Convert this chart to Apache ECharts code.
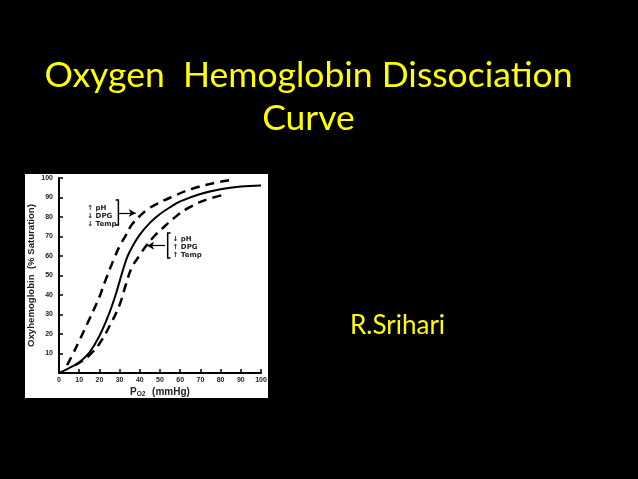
<!DOCTYPE html>
<html>
<head>
<meta charset="utf-8">
<style>
html,body{margin:0;padding:0;background:#000;}
#c{width:638px;height:479px;}
</style>
<script src="https://cdn.jsdelivr.net/npm/echarts@6/dist/echarts.min.js"></script>
</head>
<body>
<div id="c"></div>
<script>
var xTicks = [0,10,20,30,40,50,60,70,80,90,100];
var yTicks = [10,20,30,40,50,60,70,80,90,100];
var normalCurve = [[0,0],[5,2.5],[10,5.5],[15,10.5],[20,19],[25,31],[28,40],[30,47],[32,54],[34,60],[37,66],[40,71],[45,77],[50,81.5],[55,85],[60,88],[70,91.8],[80,94.2],[90,95.6],[100,96.2]];
var leftShift = [[4,4],[7,10],[10,16.5],[15,27.5],[20,39],[23,47.5],[27,58],[30,65],[33,70.5],[36,76],[40,80.5],[44,84],[48,86.5],[58,91.3],[66,94.5],[75,97],[85,99]];
var rightShift = [[8,4],[12,6.5],[15,9],[20,15],[25,24],[30,35],[33,45],[36,54],[40,60.5],[43,65],[47,70],[51,74],[57,79.5],[63,84],[72,88.5],[82,91.5]];
var leftLabels = ['\u2191 pH','\u2193 DPG','\u2193 Temp'];
var rightLabels = ['\u2193 pH','\u2191 DPG','\u2191 Temp'];
var titleText = 'Oxygen  Hemoglobin Dissociation\nCurve';
var authorText = 'R.Srihari';

var chart = echarts.init(document.getElementById('c'));
var axisFont = 'Liberation Sans, Arial, sans-serif';
var option = {
  backgroundColor: '#000',
  animation: false,
  grid: {left: 59, right: 377, top: 178, bottom: 106},
  xAxis: {
    type: 'value', min: 0, max: 100, interval: 10,
    axisLine: {lineStyle: {color: '#000', width: 2}},
    axisTick: {inside: true, length: 4, lineStyle: {color: '#000', width: 1.5}},
    splitLine: {show: false},
    axisLabel: {color: '#222', fontSize: 7, fontWeight: 'bold', fontFamily: axisFont, margin: 4},
    name: '{p|P}{s|O2}  {p|(mmHg)}',
    nameLocation: 'middle', nameGap: 13,
    nameTextStyle: {rich: {
      p: {fontSize: 10, fontWeight: 'bold', color: '#222', fontFamily: axisFont},
      s: {fontSize: 6.5, fontWeight: 'bold', color: '#222', fontFamily: axisFont, padding: [5,0,0,0]}
    }}
  },
  yAxis: {
    type: 'value', min: 0, max: 100, interval: 10,
    axisLine: {lineStyle: {color: '#000', width: 2}},
    axisTick: {inside: true, length: 4, lineStyle: {color: '#000', width: 1.5}},
    splitLine: {show: false},
    axisLabel: {color: '#222', fontSize: 7, fontWeight: 'bold', fontFamily: axisFont, margin: 6,
      formatter: function(v){ return yTicks.indexOf(v) >= 0 ? String(v) : ''; }},
    name: 'Oxyhemoglobin  (% Saturation)',
    nameLocation: 'middle', nameGap: 23,
    nameTextStyle: {fontSize: 9.6, fontWeight: 'bold', color: '#222', fontFamily: axisFont}
  },
  series: [
    {type: 'line', data: normalCurve, smooth: 0.4, symbol: 'none', z: 3,
     lineStyle: {color: '#000', width: 2}},
    {type: 'line', data: leftShift, smooth: 0.4, symbol: 'none',
     lineStyle: {color: '#000', width: 2.5, type: [9,6]}},
    {type: 'line', data: rightShift, smooth: 0.4, symbol: 'none',
     lineStyle: {color: '#000', width: 2.5, type: [9,6]},
     markLine: {
       silent: true, symbol: ['none','arrow'], symbolSize: [6,7],
       label: {show: false},
       lineStyle: {color: '#000', width: 1.2, type: 'solid'},
       data: [
         [{coord: [29.4, 82]}, {coord: [38, 82]}],
         [{coord: [52.5, 65.3]}, {coord: [43.6, 65.3]}]
       ]
     }}
  ],
  graphic: []
};
chart.setOption(option);

function px(p){ return chart.convertToPixel({gridIndex: 0}, p); }
var g = [];
g.push({type: 'rect', shape: {x: 25, y: 174, width: 243, height: 224}, style: {fill: '#fff'}, z: -10, silent: true});
g.push({type: 'text', x: 308.5, y: 54, style: {text: titleText, fill: '#ffff00', font: '35.5px Lato, "Open Sans", sans-serif', align: 'center', verticalAlign: 'top', lineHeight: 43}});
g.push({type: 'text', x: 350, y: 313, style: {text: authorText, fill: '#ffff00', font: '26px Lato, "Open Sans", sans-serif', align: 'left', verticalAlign: 'top'}});
var lb1 = px([28.0, 88.7]), lb2 = px([29.4, 75.9]);
g.push({type: 'polyline', shape: {points: [[lb1[0], lb1[1]], [lb2[0], lb1[1]], [lb2[0], lb2[1]], [lb1[0], lb2[1]]]}, style: {stroke: '#000', lineWidth: 1.5, fill: null}});
var lt = px([14, 86.8]);
g.push({type: 'text', x: lt[0], y: lt[1], style: {text: leftLabels.join('\n'), fill: '#222', font: 'bold 7px "DejaVu Sans", sans-serif', lineHeight: 8, verticalAlign: 'top'}});
var rb1 = px([55.2, 71.8]), rb2 = px([53.8, 59.0]);
g.push({type: 'polyline', shape: {points: [[rb1[0], rb1[1]], [rb2[0], rb1[1]], [rb2[0], rb2[1]], [rb1[0], rb2[1]]]}, style: {stroke: '#000', lineWidth: 1.5, fill: null}});
var rt = px([56.2, 70.5]);
g.push({type: 'text', x: rt[0], y: rt[1], style: {text: rightLabels.join('\n'), fill: '#222', font: 'bold 7px "DejaVu Sans", sans-serif', lineHeight: 8, verticalAlign: 'top'}});
chart.setOption({graphic: g});
</script>
</body>
</html>
